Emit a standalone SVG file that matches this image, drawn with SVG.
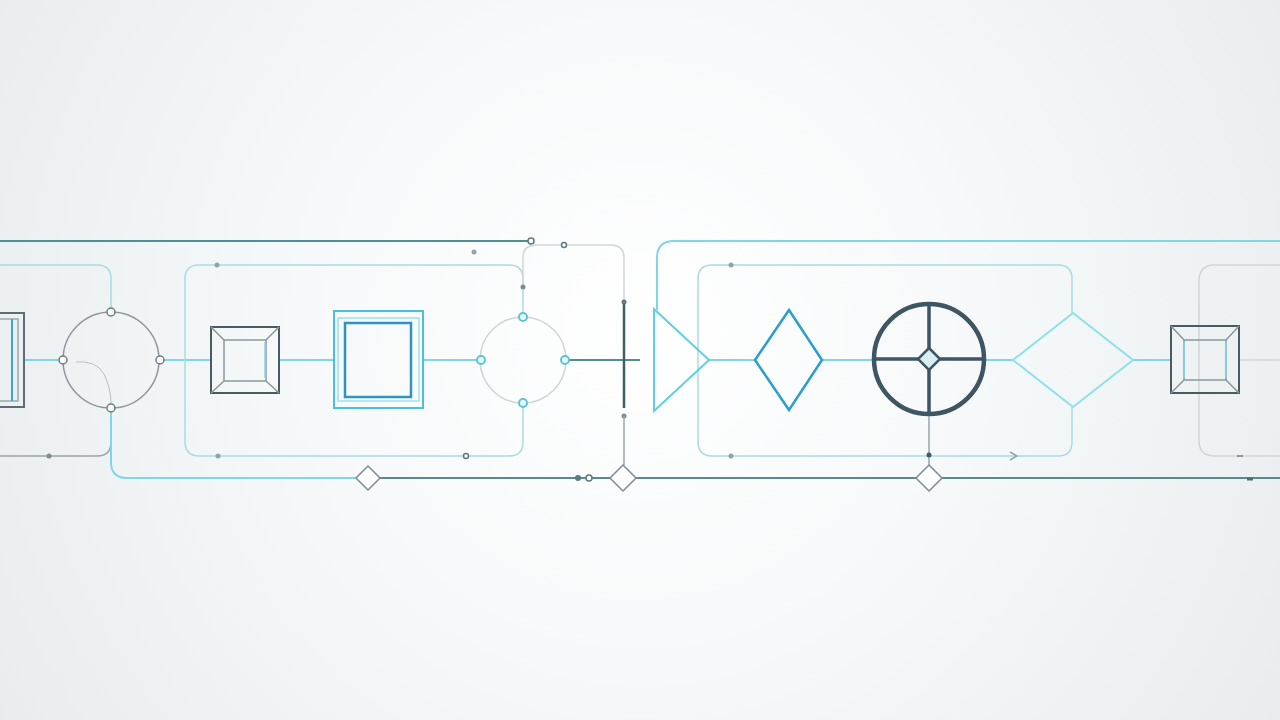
<svg xmlns="http://www.w3.org/2000/svg" width="1280" height="720" viewBox="0 0 1280 720">
<defs>
<radialGradient id="bg" cx="640" cy="330" r="820" gradientUnits="userSpaceOnUse">
<stop offset="0" stop-color="#ffffff"/>
<stop offset="0.5" stop-color="#f4f7f8"/>
<stop offset="1" stop-color="#e6eaec"/>
</radialGradient>
<style>
.dk{fill:none;stroke:#4f8f95;stroke-width:2}
.cy{fill:none;stroke:#7fd6e4;stroke-width:2}
.lt{fill:none;stroke:#a9dcdf;stroke-width:1.5}
.gr{fill:none;stroke:#9aa4a8;stroke-width:1.5}
.lg{fill:none;stroke:#cfd6d8;stroke-width:1.5}
.sq{fill:none;stroke:#4b5b62;stroke-width:2}
.sqi{fill:none;stroke:#8a989e;stroke-width:1.5}
.dot{fill:#fff;stroke:#5f7a80;stroke-width:1.5}
.cdot{fill:#e8fbfd;stroke:#5cc4d2;stroke-width:2}
.gw{fill:#fff;stroke:#6d7c80;stroke-width:1.5}
</style>
</defs>
<rect width="1280" height="720" fill="url(#bg)"/>

<g id="connectors">
<path class="dk" d="M0 241 H529"/>
<circle class="dot" cx="531" cy="241" r="3"/>
<circle fill="#8fa5aa" cx="474" cy="252" r="2.5"/>
<path class="cy" d="M657 310 V258 Q657 241 674 241 H1280"/>
<path class="lt" d="M0 265 H97 Q111 265 111 279 V310"/>
<path class="gr" d="M0 456 H97 Q111 456 111 442 V410"/>
<circle fill="#7d8c90" cx="49" cy="456" r="2.5"/>
<path class="cy" d="M111 410 V462 Q111 478 127 478 H356"/>
<path d="M76 362 Q96 360 104 374 Q111 388 111 404" fill="none" stroke="#b8c1c4" stroke-width="1"/>
<path class="cy" d="M24 360 H62"/>
<path class="cy" d="M161 360 H211"/>
<path class="lt" d="M523 314 V279 Q523 265 509 265 H199 Q185 265 185 279 V441 Q185 456 199 456 H509 Q523 456 523 442 V405"/>
<circle fill="#8fa5aa" cx="217" cy="265" r="2.5"/>
<circle fill="#8fa5aa" cx="218" cy="456" r="2.5"/>
<circle class="dot" cx="466" cy="456" r="2.5"/>
<path class="cy" d="M279 360 H334"/>
<path class="cy" d="M423 360 H481"/>
<path class="lg" d="M523 287 V258 Q523 245 536 245 H611 Q624 245 624 258 V300"/>
<circle fill="#7d8c90" cx="523" cy="287" r="2.5"/>
<circle class="dot" cx="564" cy="245" r="2.5" stroke="#a9b3b6"/>
<path class="dk" d="M565 360 H640"/>
<path d="M624 302 V408" fill="none" stroke="#3f5e64" stroke-width="2.5"/>
<circle fill="#5f7a80" cx="624" cy="302" r="2.5"/>
<circle fill="#7d8c90" cx="624" cy="416" r="2.5"/>
<path class="gr" d="M624 416 V465"/>
<path d="M380 478 H1280" fill="none" stroke="#5a8a8f" stroke-width="2"/>
<circle fill="#5a7a80" cx="578" cy="478" r="3"/>
<circle class="dot" cx="589" cy="478" r="3"/>
<path d="M1247 479 h6" stroke="#4f6f75" stroke-width="3"/>
<path class="cy" d="M709 360 H755"/>
<path class="cy" d="M822 360 H874"/>
<path class="cy" d="M985 360 H1013"/>
<path class="lt" d="M1072 313 V279 Q1072 265 1058 265 H712 Q698 265 698 279 V441 Q698 456 712 456 H1058 Q1072 456 1072 442 V407"/>
<circle fill="#8fa5aa" cx="731" cy="265" r="2.5"/>
<circle fill="#8fa5aa" cx="731" cy="456" r="2.5"/>
<path d="M1010 452 L1017 456 L1010 460" fill="none" stroke="#8fa5aa" stroke-width="1.5"/>
<path class="gr" d="M929 414 V466" stroke-width="1"/>
<circle fill="#3d5a66" cx="929" cy="455" r="2.5"/>
<path class="cy" d="M1133 360 H1172"/>
<path class="lg" d="M1239 360 H1280"/>
<path class="lg" d="M1280 265 H1215 Q1199 265 1199 281 V441 Q1199 456 1215 456 H1280"/>
<path d="M1237 456 h6" stroke="#6f8086" stroke-width="1.5"/>
</g>

<g id="left-box">
<rect x="-10" y="313" width="34" height="94" fill="none" stroke="#5e6d73" stroke-width="2"/>
<rect x="-10" y="319" width="28" height="82" fill="none" stroke="#9aa8ad" stroke-width="1.5"/>
<path d="M12 319 V401" stroke="#3ba6cf" stroke-width="2"/>
</g>

<g id="circle-1">
<circle cx="111" cy="360" r="48" fill="none" stroke="#8e989c" stroke-width="1.5"/>
<circle class="gw" cx="111" cy="312" r="4"/>
<circle class="gw" cx="63" cy="360" r="4"/>
<circle class="gw" cx="160" cy="360" r="4"/>
<circle class="gw" cx="111" cy="408" r="4"/>
</g>

<g id="square-1">
<rect class="sq" x="211" y="327" width="68" height="66"/>
<rect class="sqi" x="224" y="340" width="42" height="41"/>
<path class="sqi" d="M211 327 L224 340 M279 327 L266 340 M211 393 L224 381 M279 393 L266 381"/>
<path d="M265 342 V378" stroke="#7fd6e4" stroke-width="1.5"/>
</g>

<g id="square-2">
<rect x="334" y="311" width="89" height="97" fill="none" stroke="#4cc0da" stroke-width="2"/>
<rect x="338" y="318" width="81" height="83" fill="none" stroke="#9ee0ea" stroke-width="1.5"/>
<rect x="345" y="323" width="66" height="74" fill="none" stroke="#2f93c4" stroke-width="2.5"/>
</g>

<g id="circle-2">
<circle cx="523" cy="360" r="43" fill="none" stroke="#cdd5d7" stroke-width="1.5"/>
<circle class="cdot" cx="523" cy="317" r="4"/>
<circle class="cdot" cx="481" cy="360" r="4"/>
<circle class="cdot" cx="565" cy="360" r="4"/>
<circle class="cdot" cx="523" cy="403" r="4"/>
</g>

<g id="diamond-b1">
<path d="M368 466 L380 478 L368 490 L356 478 Z" fill="#fff" stroke="#7d8c90" stroke-width="1.5"/>
</g>
<g id="diamond-b2">
<path d="M623 465 L636 478 L623 491 L610 478 Z" fill="#fff" stroke="#7d8c90" stroke-width="1.5"/>
</g>
<g id="diamond-b3">
<path d="M929 465 L942 478 L929 491 L916 478 Z" fill="#fff" stroke="#7d8c90" stroke-width="1.5"/>
</g>

<g id="triangle">
<path d="M654 309 L709 360 L654 411 Z" fill="none" stroke="#5fd0e0" stroke-width="2"/>
</g>

<g id="diamond-1">
<path d="M789 310 L822 360 L789 410 L755 360 Z" fill="none" stroke="#2c9dcc" stroke-width="2.5"/>
</g>

<g id="circle-3">
<circle cx="929" cy="359" r="55" fill="none" stroke="#3e5663" stroke-width="4.5"/>
<path d="M929 304 V414 M874 359 H984" stroke="#3e5663" stroke-width="3.5"/>
<path d="M929 348 L940 359 L929 370 L918 359 Z" fill="#d8f0f4" stroke="#3e5663" stroke-width="2.5"/>
</g>

<g id="diamond-2">
<path d="M1073 313 L1133 360 L1073 407 L1013 360 Z" fill="none" stroke="#8ee0ea" stroke-width="2"/>
</g>

<g id="square-3">
<rect class="sq" x="1171" y="326" width="68" height="67"/>
<rect class="sqi" x="1184" y="340" width="42" height="40"/>
<path class="sqi" d="M1171 326 L1184 340 M1239 326 L1226 340 M1171 393 L1184 380 M1239 393 L1226 380"/>
<path d="M1184 342 V378 M1226 342 V378" stroke="#7fd6e4" stroke-width="1.5"/>
</g>
</svg>
